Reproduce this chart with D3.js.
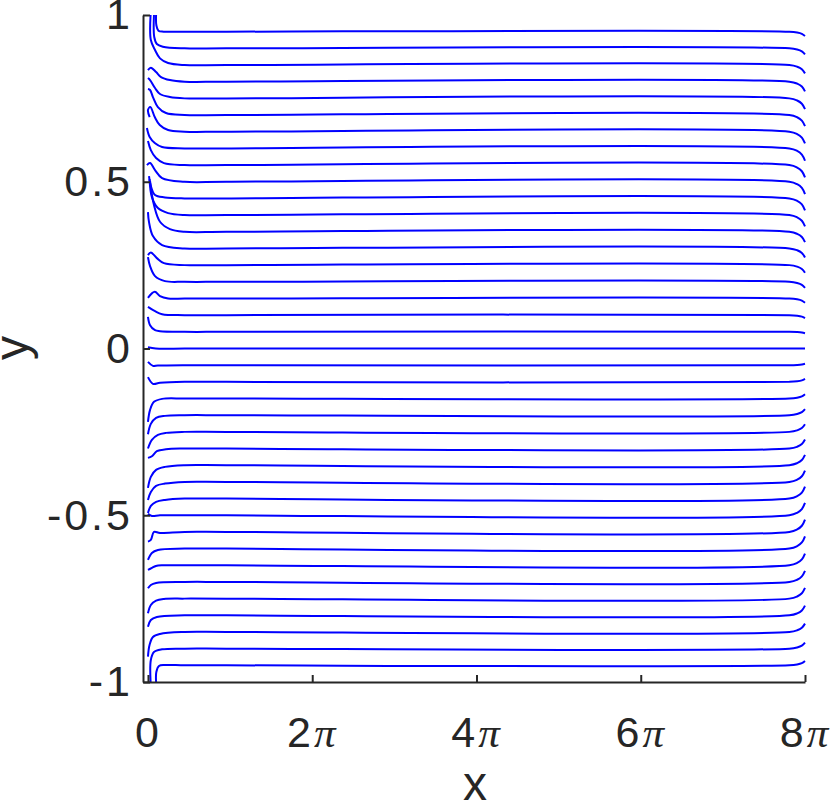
<!DOCTYPE html>
<html>
<head>
<meta charset="utf-8">
<script src="https://cdn.jsdelivr.net/npm/d3@7"></script>
<style>
  body{margin:0;background:#fff;}
  text{font-family:"Liberation Sans",Arial,sans-serif;}
</style>
</head>
<body>
<svg width="830" height="808"></svg>
<script>
const PI8 = 8 * Math.PI;

// уровни полки каждой линии (сверху вниз)
const levels = [0.95,0.9,0.85,0.8,0.75,0.7,0.65,0.6,0.55,0.5,0.45,0.4,0.35,0.3,0.25,0.2,0.15,0.1,0.05,0,
  -0.05,-0.1,-0.15,-0.2,-0.25,-0.3,-0.35,-0.4,-0.45,-0.5,-0.55,-0.6,-0.65,-0.7,-0.75,-0.8,-0.85,-0.9,-0.95];

// начало каждой линии у x=0 (точки [x, y])
const heads = [
  [[0.31,1.0],[0.32,0.97],[0.40,0.953],[0.6,0.95]],
  [[0.23,1.0],[0.24,0.934],[0.34,0.913],[0.57,0.905]],
  [[0.10,1.0],[0.11,0.925],[0.27,0.895],[0.46,0.87],[0.77,0.856]],
  [[0,0.835],[0.11,0.842],[0.31,0.829],[0.5,0.814],[0.84,0.805]],
  [[0,0.811],[0.08,0.805],[0.27,0.781],[0.46,0.763],[0.84,0.754]],
  [[0,0.778],[0.08,0.775],[0.19,0.754],[0.38,0.724],[0.69,0.706]],
  [[0.065,0.694],[0,0.715],[0.09,0.724],[0.26,0.694],[0.45,0.67],[0.77,0.655]],
  [[-0.04,0.661],[0.065,0.634],[0.26,0.616],[0.54,0.604]],
  [[0,0.622],[0.11,0.595],[0.31,0.571],[0.61,0.556]],
  [[-0.04,0.55],[0.08,0.556],[0.27,0.535],[0.54,0.511]],
  [[0.04,0.517],[0.1,0.49],[0.27,0.46],[0.65,0.453]],
  [[0.06,0.508],[0.15,0.454],[0.38,0.421],[0.77,0.406]],
  [[0.08,0.502],[0.23,0.43],[0.46,0.38],[0.84,0.358]],
  [[0,0.409],[0.04,0.379],[0.19,0.337],[0.54,0.31]],
  [[0,0.28],[0.11,0.288],[0.34,0.271],[0.61,0.256]],
  [[0,0.274],[0.08,0.247],[0.27,0.217],[0.65,0.202]],
  [[0,0.152],[0.26,0.17],[0.46,0.157],[0.77,0.15]],
  [[0,0.125],[0.27,0.112],[0.54,0.103]],
  [[0,0.095],[0.08,0.07],[0.27,0.055],[0.46,0.052]],
  [[0,0.004],[0.3,0.0]],
  [[0,-0.04],[0.19,-0.052],[0.38,-0.051]],
  [[0,-0.086],[0.19,-0.106],[0.46,-0.103]],
  [[0,-0.22],[0.08,-0.184],[0.23,-0.16],[0.54,-0.151]],
  [[0,-0.257],[0.11,-0.226],[0.31,-0.208],[0.65,-0.202]],
  [[0,-0.3],[0.15,-0.274],[0.38,-0.259],[0.69,-0.253]],
  [[0,-0.328],[0.15,-0.323],[0.34,-0.308],[0.69,-0.302]],
  [[0,-0.418],[0.11,-0.385],[0.31,-0.364],[0.65,-0.355]],
  [[0,-0.454],[0.11,-0.43],[0.31,-0.412],[0.65,-0.405]],
  [[0,-0.493],[0.11,-0.472],[0.31,-0.46],[0.65,-0.454]],
  [[0,-0.496],[0.15,-0.502],[0.46,-0.5]],
  [[0,-0.579],[0.11,-0.574],[0.23,-0.55],[0.46,-0.553]],
  [[0,-0.634],[0.15,-0.613],[0.38,-0.604]],
  [[0,-0.664],[0.15,-0.658],[0.3,-0.652],[0.6,-0.65]],
  [[0,-0.719],[0.11,-0.709],[0.31,-0.703]],
  [[0,-0.794],[0.11,-0.769],[0.31,-0.756],[0.61,-0.751]],
  [[0,-0.834],[0.11,-0.814],[0.34,-0.805]],
  [[0,-0.924],[0.06,-0.889],[0.19,-0.865],[0.46,-0.856]],
  [[0.1,-1.0],[0.11,-0.934],[0.23,-0.91],[0.54,-0.902]],
  [[0.31,-1.0],[0.32,-0.97],[0.42,-0.952],[0.65,-0.949]]
];

// изгиб у правого края: насколько линия уходит к нулю в x=8pi
const endShift = [0.013,0.018,0.025,0.029,0.032,0.033,0.035,0.037,0.037,0.037,0.036,0.034,0.031,0.027,0.023,0.018,0.013,0.009,0.004,0,
  -0.004,-0.009,-0.013,-0.018,-0.023,-0.027,-0.031,-0.034,-0.036,-0.037,-0.037,-0.037,-0.035,-0.033,-0.032,-0.029,-0.025,-0.018,-0.013];
// форма изгиба (отступ от 8pi и доля сдвига)
const bendDx = [0.6, 0.3, 0.12, 0];
const bendFrac = [0, 0.2, 0.5, 1];

const xTicks = [0, 2*Math.PI, 4*Math.PI, 6*Math.PI, 8*Math.PI];
const xTickNum = ['0','2','4','6','8'];
const yTicks = [-1, -0.5, 0, 0.5, 1];
const yTickLabels = ['-1','-0.5','0','0.5','1'];

const svg = d3.select('svg');
const x = d3.scaleLinear().domain([-0.19, PI8]).range([143, 805]);
const y = d3.scaleLinear().domain([-1, 1]).range([682, 15]);

const line = d3.line()
  .x(d => x(d[0]))
  .y(d => y(d[1]))
  .curve(d3.curveCatmullRom.alpha(0.5));

levels.forEach((lv, i) => {
  const pts = heads[i].slice();
  pts.push([1.4, lv], [3, lv], [PI8 - bendDx[0], lv]);
  for (let k = 1; k < bendDx.length; k++) {
    pts.push([PI8 - bendDx[k], lv - endShift[i] * bendFrac[k]]);
  }
  svg.append('path')
    .attr('d', line(pts))
    .attr('fill', 'none')
    .attr('stroke', '#0000ff')
    .attr('stroke-width', 2);
});

const axisColor = '#262626';

const gx = svg.append('g')
  .attr('transform', 'translate(0,682)')
  .call(d3.axisBottom(x).tickValues(xTicks).tickSize(-7).tickSizeOuter(0).tickPadding(34).tickFormat(''));
const gy = svg.append('g')
  .attr('transform', 'translate(143,0)')
  .call(d3.axisLeft(y).tickValues(yTicks).tickSize(-7).tickSizeOuter(0).tickPadding(10)
    .tickFormat((d, i) => yTickLabels[i]));

[gx, gy].forEach(g => {
  g.select('.domain').attr('stroke', axisColor).attr('stroke-width', 2);
  g.selectAll('.tick line').attr('stroke', axisColor).attr('stroke-width', 2);
  g.selectAll('text').attr('fill', axisColor).attr('font-size', 43)
    .attr('letter-spacing', 3)
    .attr('font-family', '"Liberation Sans", Arial, sans-serif');
});

// подписи с pi
gx.selectAll('.tick text').each(function(d, i) {
  const t = d3.select(this);
  t.text(null);
  t.append('tspan').text(xTickNum[i]);
  if (i > 0) {
    t.append('tspan').text('π').attr('font-style', 'italic')
      .attr('font-family', '"Liberation Serif", serif');
  }
});

svg.append('text')
  .attr('x', 475).attr('y', 800)
  .attr('text-anchor', 'middle')
  .attr('font-size', 48).attr('fill', axisColor)
  .text('x');
svg.append('text')
  .attr('transform', 'translate(28,348) rotate(-90)')
  .attr('text-anchor', 'middle')
  .attr('font-size', 48).attr('fill', axisColor)
  .text('y');
</script>
</body>
</html>
